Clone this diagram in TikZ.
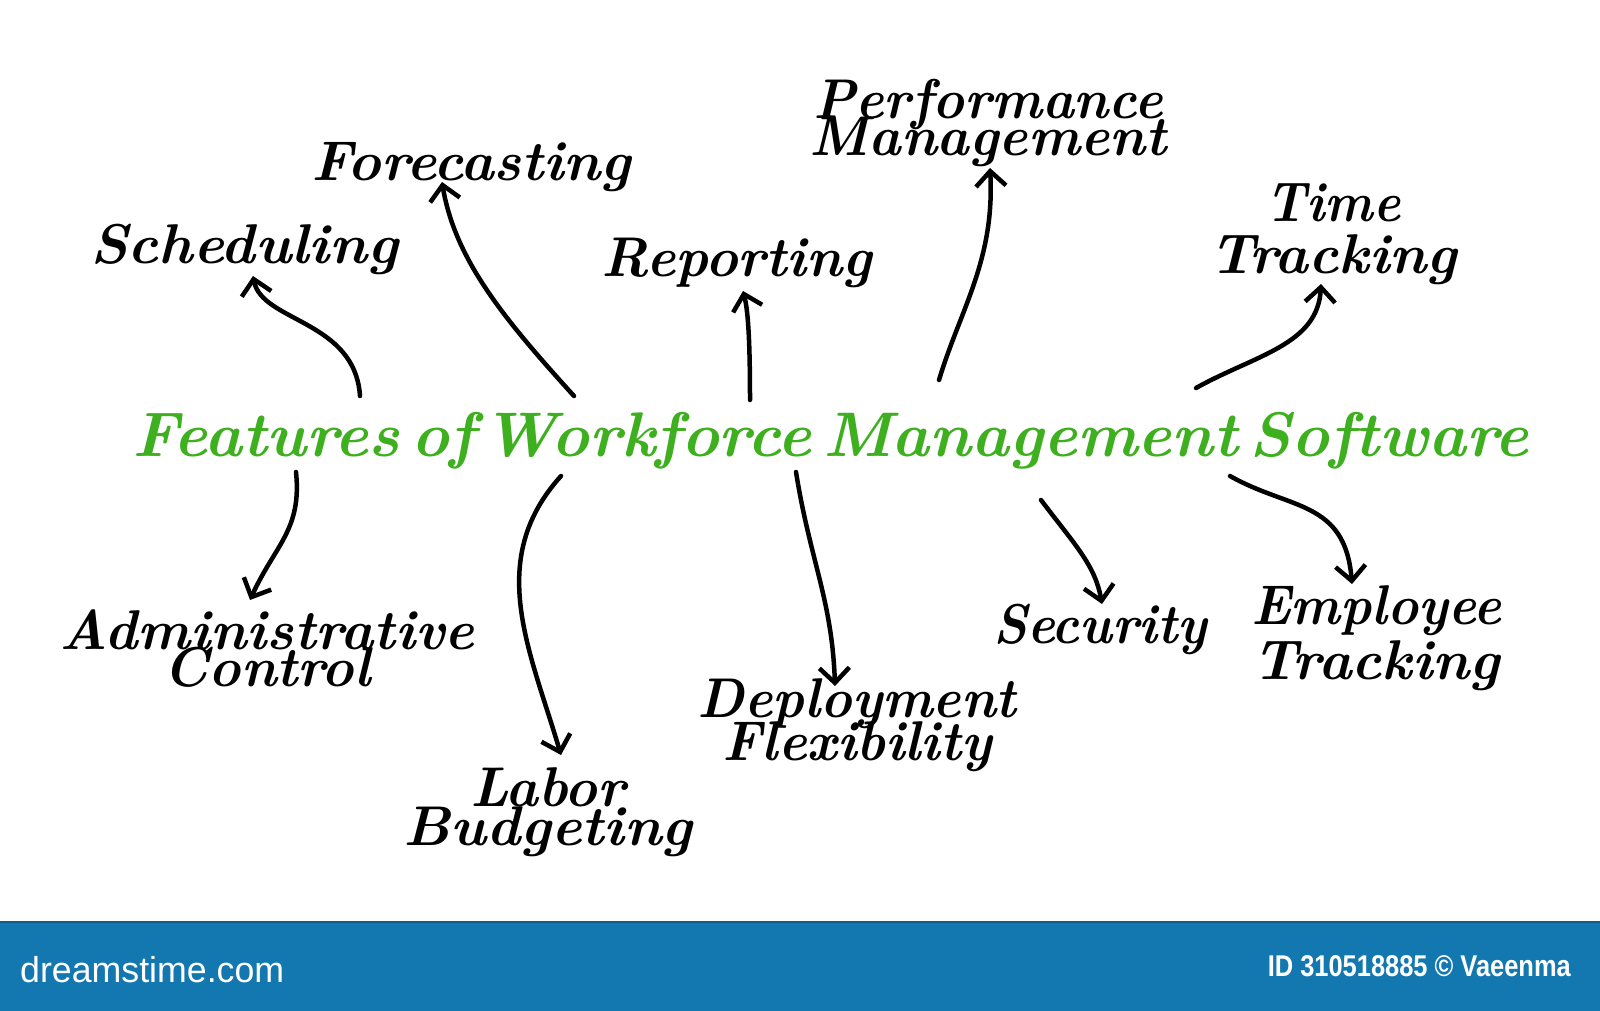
\documentclass[tikz,border=0pt]{standalone}
\usepackage{fontspec}
\usepackage{graphicx}
\newfontfamily\barfont{Liberation Sans}
\usetikzlibrary{arrows.meta}
\definecolor{titlegreen}{RGB}{62,175,30}
\definecolor{barblue}{RGB}{19,120,176}
\newcommand\fitw[2]{\resizebox{#1pt}{\height}{#2}}
\newcommand\lead[1]{\fontsize{56}{#1}\selectfont\lineskiplimit=-\maxdimen\lineskip=0pt\itshape\bfseries}
\begin{document}
\begin{tikzpicture}[x=1pt,y=-1pt,
  lbl/.style={anchor=base, inner sep=0pt, align=center, font=\lead{56}},
  ttl/.style={anchor=base, inner sep=0pt, text=titlegreen, font=\fontsize{63}{63}\selectfont\itshape\bfseries},
  hand/.style={line width=4.5pt, line cap=round, line join=round,
    -{Straight Barb[length=15pt,width=30pt,line width=4.5pt]}}]
\useasboundingbox (0,0) rectangle (1600,1011);
\fill[white] (0,0) rectangle (1600,1011);
% title
\node[ttl] (title) at (831,456) {\fitw{1396}{Features\hspace{0.18em}of\hspace{0.12em}Workforce\hspace{0.18em}Management\hspace{0.18em}Software}};
% labels (anchor base = baseline of the last line)
\node[lbl] (sched) at (244,263) {\fitw{308}{Scheduling}};
\node[lbl] (fore) at (471,180) {\fitw{320}{Forecasting}};
\node[lbl] (rep) at (737,276) {\fitw{270}{Reporting}};
\node[lbl, font=\lead{37}] (perf) at (988,156) {\fitw{350}{Performance}\\\fitw{357}{Management}};
\node[lbl, font=\lead{52}] (time) at (1333,273) {\fitw{135}{Time}\\\fitw{248}{Tracking}};
\node[lbl, font=\lead{37}] (adm) at (267,686) {\fitw{415}{Administrative}\\\fitw{207}{Control}};
\node[lbl, font=\lead{39}] (lab) at (548,845) {\fitw{155}{Labor}\\\fitw{289}{Budgeting}};
\node[lbl, font=\lead{43}] (dep) at (857,760) {\fitw{319}{Deployment}\\\fitw{269}{Flexibility}};
\node[lbl] (sec) at (1100,643) {\fitw{214}{Security}};
\node[lbl, font=\lead{55}] (emp) at (1376,679) {\fitw{250}{Employee}\\\fitw{247}{Tracking}};
% arrow end points
\coordinate (a1s) at (360,396);  \coordinate (a1e) at (253,276);
\coordinate (a2s) at (574,396);  \coordinate (a2e) at (442,182);
\coordinate (a3s) at (750,400);  \coordinate (a3e) at (743,291);
\coordinate (a4s) at (939,380);  \coordinate (a4e) at (990,168);
\coordinate (a5s) at (1196,388); \coordinate (a5e) at (1321,284);
\coordinate (a6s) at (296,472);  \coordinate (a6e) at (250,600);
\coordinate (a7s) at (561,476);  \coordinate (a7e) at (561,755);
\coordinate (a8s) at (796,472);  \coordinate (a8e) at (835,686);
\coordinate (a9s) at (1041,500); \coordinate (a9e) at (1102,604);
\coordinate (a10s) at (1230,476); \coordinate (a10e) at (1352,584);
% arrows
\draw[hand] (a1s) .. controls (355,320) and (262,322) .. (a1e);
\draw[hand] (a2s) .. controls (505,320) and (455,260) .. (a2e);
\draw[hand] (a3s) .. controls (750,340) and (748,310) .. (a3e);
\draw[hand] (a4s) .. controls (960,310) and (995,260) .. (a4e);
\draw[hand] (a5s) .. controls (1255,355) and (1318,345) .. (a5e);
\draw[hand] (a6s) .. controls (302,530) and (275,545) .. (a6e);
\draw[hand] (a7s) .. controls (485,560) and (530,650) .. (a7e);
\draw[hand] (a8s) .. controls (810,560) and (832,600) .. (a8e);
\draw[hand] (a9s) .. controls (1075,545) and (1095,565) .. (a9e);
\draw[hand] (a10s) .. controls (1290,510) and (1345,500) .. (a10e);
% bottom bar
\fill[barblue] (0,921) rectangle (1600,1011);
\draw[barblue!80!black, line width=2pt] (0,922) -- (1600,922);
\node[anchor=base west, text=white, inner sep=0pt, font=\barfont\fontsize{36}{36}\selectfont] (dt) at (20,982) {\fitw{264}{dreamstime.com}};
\node[anchor=base east, text=white, inner sep=0pt, font=\barfont\bfseries\fontsize{30}{30}\selectfont] (id) at (1571,976) {\fitw{303}{ID 310518885 © Vaeenma}};
\end{tikzpicture}
\end{document}
